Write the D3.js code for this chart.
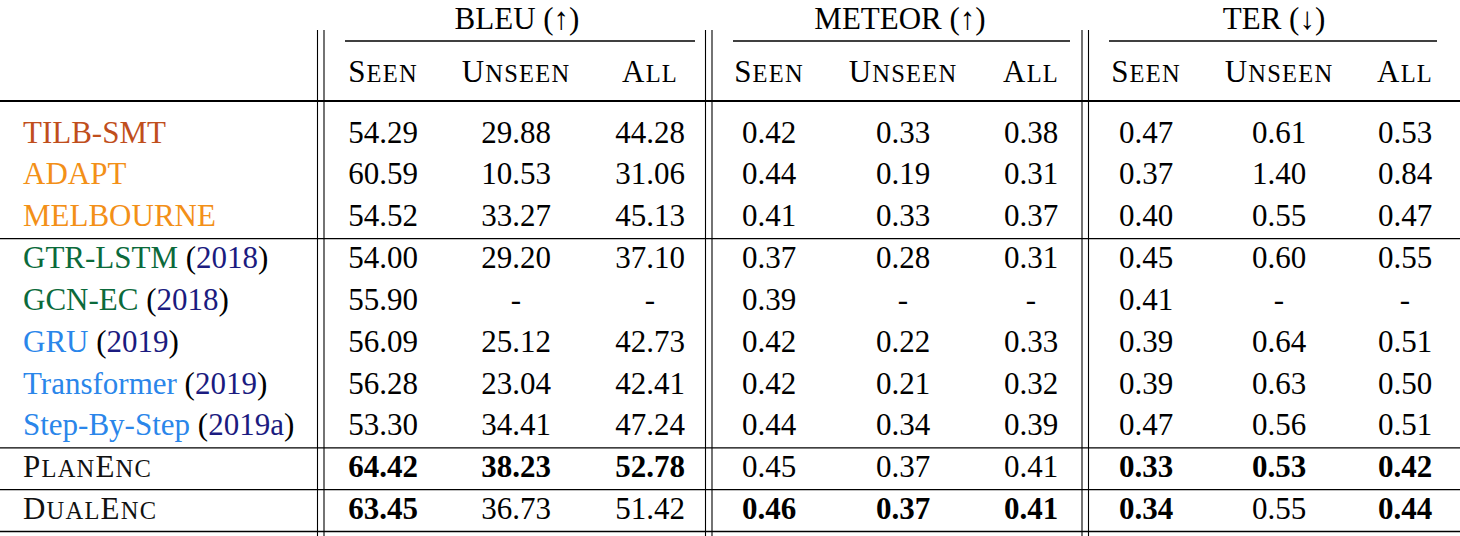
<!DOCTYPE html>
<html>
<head>
<meta charset="utf-8">
<script src="https://cdn.jsdelivr.net/npm/d3@7"></script>
<style>
  html, body { margin: 0; padding: 0; background: #fff; }
  svg { display: block; }
  text { font-family: "Liberation Serif", "DejaVu Serif", serif; }
</style>
</head>
<body>
<svg id="chart" width="1460" height="536"></svg>
<script>
// ---------------- data ----------------
const metricGroups = ["BLEU", "METEOR", "TER"];
const metricArrows = ["↑", "↑", "↓"];
const splitLabels = ["Seen", "Unseen", "All"];

const methods = ["TILB-SMT", "ADAPT", "MELBOURNE", "GTR-LSTM", "GCN-EC", "GRU",
                 "Transformer", "Step-By-Step", "PlanEnc", "DualEnc"];
const methodYears = [null, null, null, "2018", "2018", "2019", "2019", "2019a", null, null];
const methodFamily = ["tilb", "webnlg", "webnlg", "graph", "graph", "seq", "seq", "seq", "ours", "ours"];

const bleuSeen     = [54.29, 60.59, 54.52, 54.00, 55.90, 56.09, 56.28, 53.30, 64.42, 63.45];
const bleuUnseen   = [29.88, 10.53, 33.27, 29.20, null, 25.12, 23.04, 34.41, 38.23, 36.73];
const bleuAll      = [44.28, 31.06, 45.13, 37.10, null, 42.73, 42.41, 47.24, 52.78, 51.42];
const meteorSeen   = [0.42, 0.44, 0.41, 0.37, 0.39, 0.42, 0.42, 0.44, 0.45, 0.46];
const meteorUnseen = [0.33, 0.19, 0.33, 0.28, null, 0.22, 0.21, 0.34, 0.37, 0.37];
const meteorAll    = [0.38, 0.31, 0.37, 0.31, null, 0.33, 0.32, 0.39, 0.41, 0.41];
const terSeen      = [0.47, 0.37, 0.40, 0.45, 0.41, 0.39, 0.39, 0.47, 0.33, 0.34];
const terUnseen    = [0.61, 1.40, 0.55, 0.60, null, 0.64, 0.63, 0.56, 0.53, 0.55];
const terAll       = [0.53, 0.84, 0.47, 0.55, null, 0.51, 0.50, 0.51, 0.42, 0.44];

// bold cells: [rowIndex, columnKey]
const boldCells = [
  [8, "BLEU-Seen"], [8, "BLEU-Unseen"], [8, "BLEU-All"],
  [8, "TER-Seen"], [8, "TER-Unseen"], [8, "TER-All"],
  [9, "BLEU-Seen"], [9, "METEOR-Seen"], [9, "METEOR-Unseen"], [9, "METEOR-All"],
  [9, "TER-Seen"], [9, "TER-All"]
];
// horizontal rules drawn after these rows
const rulesAfterRow = [2, 7, 8, 9];

// ---------------- styles / layout ----------------
const familyColor = {
  tilb: "#C04E1C", webnlg: "#F39018", graph: "#0B6A3B", seq: "#2A86EA", ours: "#111111"
};
const yearColor = "#1B1B80";
const FS = 31, SMALL = 24.5;

const svg = d3.select("#chart");

const columnValues = {
  "BLEU-Seen": bleuSeen, "BLEU-Unseen": bleuUnseen, "BLEU-All": bleuAll,
  "METEOR-Seen": meteorSeen, "METEOR-Unseen": meteorUnseen, "METEOR-All": meteorAll,
  "TER-Seen": terSeen, "TER-Unseen": terUnseen, "TER-All": terAll
};
const colKeys = Object.keys(columnValues);

const xCol = d3.scaleOrdinal().domain(colKeys)
  .range([383, 516, 650, 769, 903, 1031, 1146, 1279, 1405]);
const xGroup = d3.scaleOrdinal().domain(metricGroups).range([517, 900, 1274]);
const cmid = d3.scaleOrdinal().domain(metricGroups).range([[345, 695], [733, 1070], [1109, 1437]]);
const dblLines = d3.scaleOrdinal().domain(metricGroups).range([[317.5, 324], [705.5, 712], [1082, 1088.5]]);
const yRow = d3.scaleLinear().domain([0, methods.length - 1]).range([142.5, 519]);

function smallCaps(sel, str) {
  for (const ch of str) {
    const isUpper = ch === ch.toUpperCase();
    sel.append("tspan")
      .attr("font-size", isUpper ? FS : SMALL)
      .text(ch.toUpperCase());
  }
}

// vertical double lines
metricGroups.forEach(g => {
  dblLines(g).forEach(x => {
    svg.append("line").attr("x1", x).attr("x2", x).attr("y1", 30).attr("y2", 536)
      .attr("stroke", "#000").attr("stroke-width", 1.1);
  });
});

// header rules
svg.append("line").attr("x1", 0).attr("x2", 1460).attr("y1", 101).attr("y2", 101)
  .attr("stroke", "#000").attr("stroke-width", 2);
metricGroups.forEach(g => {
  const [a, b] = cmid(g);
  svg.append("line").attr("x1", a).attr("x2", b).attr("y1", 41).attr("y2", 41)
    .attr("stroke", "#000").attr("stroke-width", 1.3);
});
rulesAfterRow.forEach(r => {
  const y = yRow(r) + 12.5;
  svg.append("line").attr("x1", 0).attr("x2", 1460).attr("y1", y).attr("y2", y)
    .attr("stroke", "#000").attr("stroke-width", 1.3);
});

// group titles
metricGroups.forEach((g, i) => {
  svg.append("text").attr("x", xGroup(g)).attr("y", 29)
    .attr("text-anchor", "middle").attr("font-size", FS)
    .text(`${g} (${metricArrows[i]})`);
});

// split headers
colKeys.forEach(k => {
  const split = k.split("-")[1];
  const t = svg.append("text").attr("x", xCol(k)).attr("y", 82)
    .attr("text-anchor", "middle").attr("letter-spacing", 1.2);
  smallCaps(t, split);
});

// method names
methods.forEach((m, i) => {
  const fam = methodFamily[i];
  const t = svg.append("text").attr("x", 23).attr("y", yRow(i)).attr("font-size", FS);
  if (fam === "ours") {
    smallCaps(t, m);
    t.attr("letter-spacing", 1.2).attr("fill", familyColor.ours);
  } else {
    t.append("tspan").attr("fill", familyColor[fam]).text(m);
    if (methodYears[i]) {
      t.append("tspan").attr("fill", "#000").text(" (");
      t.append("tspan").attr("fill", yearColor).text(methodYears[i]);
      t.append("tspan").attr("fill", "#000").text(")");
    }
  }
});

// values
const boldSet = new Set(boldCells.map(d => d[0] + "|" + d[1]));
colKeys.forEach(k => {
  svg.selectAll(null).data(columnValues[k]).enter().append("text")
    .attr("x", xCol(k))
    .attr("y", (d, i) => yRow(i))
    .attr("text-anchor", "middle")
    .attr("font-size", FS)
    .attr("font-weight", (d, i) => boldSet.has(i + "|" + k) ? "bold" : "normal")
    .attr("fill", "#000")
    .text(d => d == null ? "-" : d.toFixed(2));
});
</script>
</body>
</html>
